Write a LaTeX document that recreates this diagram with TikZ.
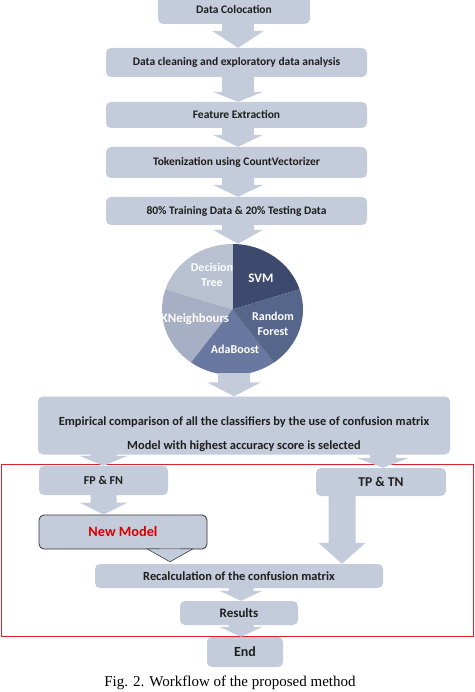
\documentclass[tikz,border=0pt]{standalone}
\usepackage{fontspec}
\setmainfont{Carlito}
\newfontfamily\capfont{Liberation Serif}
\usetikzlibrary{calc}

\definecolor{boxc}{HTML}{C4CBDA}
\definecolor{svmc}{HTML}{3D4A6E}
\definecolor{rfc}{HTML}{56658A}
\definecolor{adac}{HTML}{6878A0}
\definecolor{knc}{HTML}{A6AFC3}
\definecolor{dtc}{HTML}{B9C0D0}
\definecolor{framec}{HTML}{D9232D}
\definecolor{textc}{HTML}{1E1E1E}

% block arrow: from, to, shaft half width, head half width, head length
\newcommand{\blockarrow}[6][]{%
	\path[fill=boxc,#1] let \p1=#2, \p2=#3 in
		(\x1-#4pt,\y1) -- (\x1-#4pt,\y2+#6pt) -- (\x1-#5pt,\y2+#6pt) -- (\x1,\y2)
		-- (\x1+#5pt,\y2+#6pt) -- (\x1+#4pt,\y2+#6pt) -- (\x1+#4pt,\y1);}

\begin{document}
\begin{tikzpicture}[x=1pt,y=-1pt,
		box/.style={fill=boxc,rounded corners=5pt,inner sep=0pt,text=textc,font=\bfseries\fontsize{11.5}{13}\selectfont},
		big/.style={font=\bfseries\fontsize{#1}{#1}\selectfont},
		slicetext/.style={text=white,align=center,font=\bfseries\fontsize{12}{15}\selectfont}]
		\useasboundingbox (0,0) rectangle (474,692);
		\clip (0,0) rectangle (474,692);
		\fill[white] (0,0) rectangle (474,692);

		% steps
		\node[box,minimum width=152pt,minimum height=28pt] (colo) at (234,10) {Data Colocation};
		\node[box,minimum width=261pt,minimum height=29pt] (clean) at (236.5,62.5) {Data cleaning and exploratory data analysis};
		\node[box,minimum width=261pt,minimum height=26pt] (feat) at (236.5,115) {Feature Extraction};
		\node[box,minimum width=261pt,minimum height=31pt] (token) at (236.5,162.5) {Tokenization using CountVectorizer};
		\node[box,minimum width=261pt,minimum height=28pt] (split) at (236.5,211) {80\% Training Data \& 20\% Testing Data};

		% classifiers
		\node[circle,minimum size=131pt,inner sep=0pt] (pie) at (232.5,309.5) {};
		\begin{scope}[shift={(pie.center)},y=1pt]
			\foreach \a/\b/\c in {18/90/svmc,90/162/dtc,162/234/knc,234/306/adac,306/378/rfc}
				\fill[\c] (0,0) -- (\a:70.5 and 65.5) arc[start angle=\a,end angle=\b,x radius=70.5,y radius=65.5] -- cycle;
		\end{scope}
		\node[slicetext] (dt) at (212,275) {Decision\\Tree};
		\node[slicetext,big=13] (svm) at (261,278) {SVM};
		\node[slicetext] (rf) at (273,324) {Random\\Forest};
		\node[slicetext,big=12.8] (kn) at (195,319) {KNeighbours};
		\node[slicetext] (ada) at (235,349) {AdaBoost};

		\node[box,minimum width=412pt,minimum height=58pt] (emp) at (244,425.5) {};
		\node[box,fill=none,big=12.4] (emp1) at (244,422) {Empirical comparison of all the classifiers by the use of confusion matrix};
		\node[box,fill=none,big=12.4] (emp2) at (244,446) {Model with highest accuracy score is selected};

		% evaluation
		\draw[framec,line width=0.9pt] (1,464) rectangle (473,636);
		\node[box,big=12,minimum width=129pt,minimum height=29pt] (fpfn) at (103.5,480.5) {FP \& FN};
		\node[box,big=13.5,minimum width=130pt,minimum height=28pt] (tptn) at (381,482) {TP \& TN};
		\node[box,draw=black!80,line width=0.8pt,minimum width=168pt,minimum height=34pt,
			text=red!85!black,big=14.3] (newm) at (123,532) {New Model};
		\node[box,big=12.4,minimum width=288pt,minimum height=24pt] (recalc) at (239,576) {Recalculation of the confusion matrix};
		\node[box,big=13,minimum width=118pt,minimum height=24pt] (results) at (239,613) {Results};
		\node[box,big=14,minimum width=76pt,minimum height=30pt] (endb) at (245,652) {End};

		\blockarrow{([xshift=4pt]colo.south)}{(clean.north)}{16}{26}{17}
		\blockarrow{([xshift=1.5pt]clean.south)}{(feat.north)}{16}{25}{10}
		\blockarrow{([xshift=1.5pt]feat.south)}{(token.north)}{16}{25}{12}
		\blockarrow{([xshift=1.5pt]token.south)}{(split.north)}{16}{25}{12}
		\blockarrow{([xshift=1.5pt]split.south)}{(pie.north)}{16}{25}{14}
		\blockarrow{([xshift=1.5pt,yshift=2pt]pie.south)}{(emp.north)}{16}{27}{14}
		\blockarrow{([yshift=1pt]emp.south -| fpfn.north)}{(fpfn.north)}{13}{24}{10}
		\blockarrow{([xshift=2pt,yshift=1pt]emp.south -| tptn.north)}{(tptn.north)}{13}{26}{10}
		\blockarrow{(fpfn.south)}{(newm.north)}{13}{24}{12}
		\blockarrow{([xshift=-39pt]tptn.south)}{(recalc.north)}{13.5}{23.5}{21}
		\blockarrow[draw=black!75,line width=0.6pt]{([xshift=47pt]newm.south)}{([yshift=2pt]recalc.north)}{11}{23}{13}
		\blockarrow{([xshift=2pt]recalc.south)}{(results.north)}{12.5}{21.5}{10}
		\blockarrow{([xshift=2pt]results.south)}{(endb.north)}{12.5}{21.5}{10}

		\node[font=\capfont\fontsize{15}{17}\selectfont] (cap) at (230,683) {Fig. 2. Workflow of the proposed method};
	\end{tikzpicture}
\end{document}
